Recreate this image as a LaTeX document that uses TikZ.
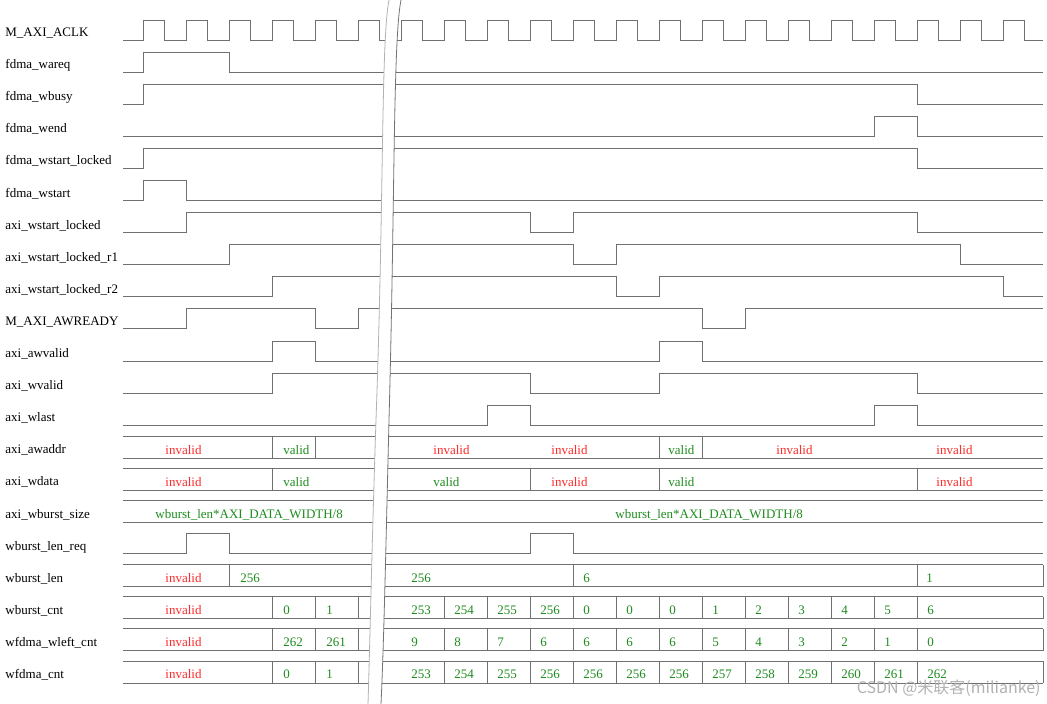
\documentclass[tikz,border=0pt]{standalone}
\usepackage{fontspec}
\setmainfont{Liberation Serif}
\newfontfamily\wmfont{Noto Sans CJK SC}
\definecolor{ln}{HTML}{707070}
\definecolor{tred}{HTML}{FF2A2A}
\definecolor{tgrn}{HTML}{1E8C1E}
\begin{document}
\begin{tikzpicture}[x=1pt,y=-1pt,line width=0.85pt,
  lbl/.style={anchor=base west,font=\fontsize{13}{13}\selectfont,inner sep=0pt},
  rv/.style={anchor=base west,font=\fontsize{13}{13}\selectfont,inner sep=0pt,text=tred},
  gv/.style={anchor=base west,font=\fontsize{13}{13}\selectfont,inner sep=0pt,text=tgrn},
  wv/.style={draw=ln,line join=miter}]
\useasboundingbox[fill=white] (0,0) rectangle (1047,704);
\newcommand{\busrow}[3]{% y, boundaries list, closing
  \draw[wv] (123,{#1-13}) -- (1043,{#1-13}) (123,{#1+9}) -- (1043,{#1+9});
  \foreach \b in {#2}{\draw[wv] (\b,{#1-13}) -- (\b,{#1+9});}
  #3}
% labels
\foreach \i/\t [count=\n from 0] in {0/M\_AXI\_ACLK,1/fdma\_wareq,2/fdma\_wbusy,3/fdma\_wend,4/fdma\_wstart\_locked,5/fdma\_wstart,6/axi\_wstart\_locked,7/axi\_wstart\_locked\_r1,8/axi\_wstart\_locked\_r2,9/M\_AXI\_AWREADY,10/axi\_awvalid,11/axi\_wvalid,12/axi\_wlast,13/axi\_awaddr,14/axi\_wdata,15/axi\_wburst\_size,16/wburst\_len\_req,17/wburst\_len,18/wburst\_cnt,19/wfdma\_wleft\_cnt,20/wfdma\_cnt}
  \node[lbl] (lab\i) at (5,{32+32.1*\i+4.5}) {\t};
% clock
\draw[wv] (123,40) \foreach \k in {0,...,20}{ -- ({143+43*\k},40) -- ({143+43*\k},20) -- ({164.5+43*\k},20) -- ({164.5+43*\k},40)} -- (1043,40);
% waves
\begin{scope}[yshift=-64.1pt]\draw[wv] (123,8) -| (143,-12) -| (229,8) -- (1043,8);\end{scope}
\begin{scope}[yshift=-96.2pt]\draw[wv] (123,8) -| (143,-12) -| (917,8) -- (1043,8);\end{scope}
\begin{scope}[yshift=-128.3pt]\draw[wv] (123,8) -| (874,-12) -| (917,8) -- (1043,8);\end{scope}
\begin{scope}[yshift=-160.4pt]\draw[wv] (123,8) -| (143,-12) -| (917,8) -- (1043,8);\end{scope}
\begin{scope}[yshift=-192.5pt]\draw[wv] (123,8) -| (143,-12) -| (186,8) -- (1043,8);\end{scope}
\begin{scope}[yshift=-224.6pt]\draw[wv] (123,8) -| (186,-12) -| (530,8) -| (573,-12) -| (917,8) -- (1043,8);\end{scope}
\begin{scope}[yshift=-256.7pt]\draw[wv] (123,8) -| (229,-12) -| (573,8) -| (616,-12) -| (960,8) -- (1043,8);\end{scope}
\begin{scope}[yshift=-288.8pt]\draw[wv] (123,8) -| (272,-12) -| (616,8) -| (659,-12) -| (1003,8) -- (1043,8);\end{scope}
\begin{scope}[yshift=-320.9pt]\draw[wv] (123,8) -| (186,-12) -| (315,8) -| (358,-12) -| (702,8) -| (745,-12) -- (1043,-12);\end{scope}
\begin{scope}[yshift=-353pt]\draw[wv] (123,8) -| (272,-12) -| (315,8) -| (659,-12) -| (702,8) -- (1043,8);\end{scope}
\begin{scope}[yshift=-385.1pt]\draw[wv] (123,8) -| (272,-12) -| (530,8) -| (659,-12) -| (917,8) -- (1043,8);\end{scope}
\begin{scope}[yshift=-417.2pt]\draw[wv] (123,8) -| (487,-12) -| (530,8) -| (874,-12) -| (917,8) -- (1043,8);\end{scope}
\begin{scope}[yshift=-545.6pt]\draw[wv] (123,8) -| (186,-12) -| (229,8) -| (530,-12) -| (573,8) -- (1043,8);\end{scope}
% buses
\busrow{449.3}{272,315,659,702}{}
\busrow{481.4}{272,530,659,917}{}
\busrow{513.5}{}{}
\busrow{577.7}{229,573,917,1043}{}
\busrow{609.8}{272,315,358,444,487,530,573,616,659,702,745,788,831,874,917,1043}{}
\busrow{641.9}{272,315,358,444,487,530,573,616,659,702,745,788,831,874,917,1043}{}
\busrow{674}{272,315,358,444,487,530,573,616,659,702,745,788,831,874,917,1043}{}
% bus texts
\node[rv] (a1) at (165,454) {invalid}; \node[gv] (a2) at (283,454) {valid};
\node[rv] (a3) at (433,454) {invalid}; \node[rv] (a4) at (551,454) {invalid};
\node[gv] (a5) at (668,454) {valid}; \node[rv] (a6) at (776,454) {invalid};
\node[rv] (a7) at (936,454) {invalid};
\node[rv] (d1) at (165,486) {invalid}; \node[gv] (d2) at (283,486) {valid};
\node[gv] (d3) at (433,486) {valid}; \node[rv] (d4) at (551,486) {invalid};
\node[gv] (d5) at (668,486) {valid}; \node[rv] (d6) at (936,486) {invalid};
\node[gv] (s1) at (155,518) {wburst\_len*AXI\_DATA\_WIDTH/8};
\node[gv] (s2) at (615,518) {wburst\_len*AXI\_DATA\_WIDTH/8};
\node[rv] (l1) at (165,582) {invalid}; \node[gv] (l2) at (240,582) {256};
\node[gv] (l3) at (411,582) {256}; \node[gv] (l4) at (583,582) {6};
\node[gv] (l5) at (926,582) {1};
\foreach \yb/\nm/\vals in {614/c/{0,1,,253,254,255,256,0,0,0,1,2,3,4,5,6},
  646/w/{262,261,,9,8,7,6,6,6,6,5,4,3,2,1,0},
  678/f/{0,1,,253,254,255,256,256,256,256,257,258,259,260,261,262}}{
  \node[rv] (\nm inv) at (165,\yb) {invalid};
  \foreach \v [count=\j from 0] in \vals {
    \pgfmathsetmacro{\xc}{\j<3 ? 283+43*\j : 411+43*(\j-3)}
    \node[gv] (\nm\j) at (\xc,\yb) {\v};}}
% break
\fill[white] (389,0) .. controls (381,40) and (384,200) .. (376,420) .. controls (372,540) and (370,640) .. (368,704)
  -- (381,704) .. controls (384,640) and (386,540) .. (389,420) .. controls (395,200) and (393,40) .. (401,0) -- cycle;
\draw[gray!60,line width=0.8pt] (389,0) .. controls (381,40) and (384,200) .. (376,420) .. controls (372,540) and (370,640) .. (368,704);
\draw[gray!90!black,line width=0.8pt] (401,0) .. controls (393,40) and (395,200) .. (389,420) .. controls (386,540) and (384,640) .. (381,704);
\node[anchor=base east,inner sep=0pt,text=black!30,font=\wmfont\fontsize{16}{16}\selectfont] (wm) at (1041,693) {CSDN @米联客(milianke)};
\end{tikzpicture}
\end{document}
